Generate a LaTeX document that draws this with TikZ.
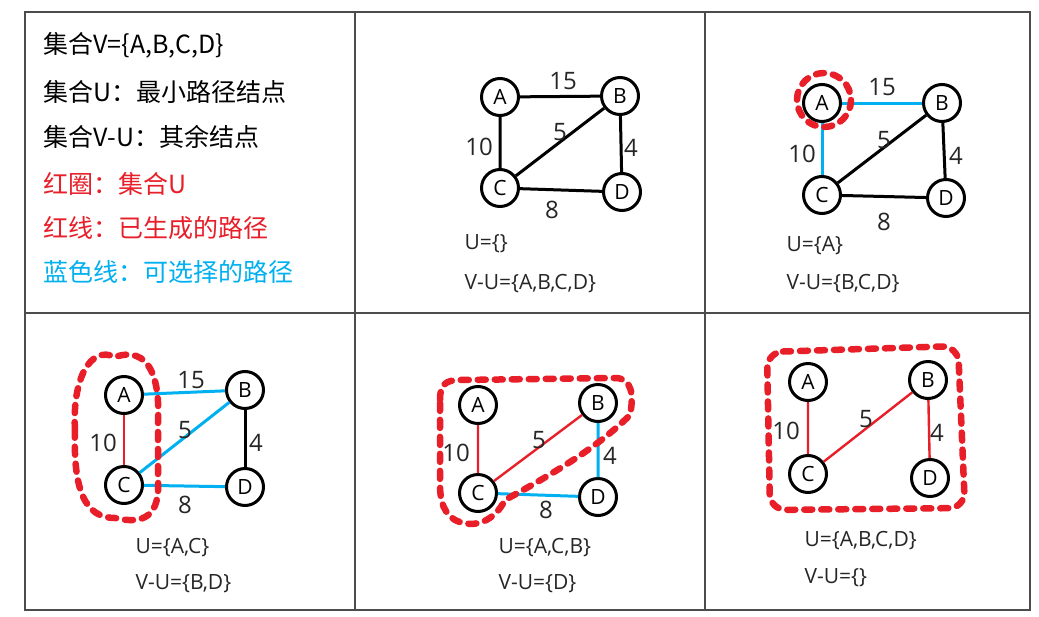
\documentclass[tikz,border=0pt]{standalone}
\usepackage{fontspec}
\setmainfont{Open Sans}
\newfontfamily\cjk{Noto Sans CJK SC}
\begin{document}
\begin{tikzpicture}[x=1pt,y=-1pt,
  nd/.style={circle,draw,line width=3pt,minimum size=37pt,inner sep=0pt,font=\fontsize{21}{21}\selectfont},
  bl/.style={line width=3pt},
  rd/.style={line width=2.4pt,draw=myred},
  bu/.style={line width=3pt,draw=myblue},
  lab/.style={font=\fontsize{24}{24}\selectfont,text=black!85},
  info/.style={anchor=west,font=\fontsize{21}{21}\selectfont,text=black!85},
  circ/.style={draw=myred,line width=6.5pt,dash pattern=on 8pt off 9pt,line cap=round},
  left/.style={anchor=west,font=\cjk\fontsize{25}{25}\selectfont}]
\definecolor{myred}{RGB}{232,30,40}
\definecolor{myblue}{RGB}{0,176,240}
\useasboundingbox (0,0) rectangle (1039,616);
\fill[white] (0,0) rectangle (1039,616);
% grid
\draw[line width=2.5pt,black!70] (25,12) rectangle (1030,610);
\draw[line width=2.5pt,black!70] (25,313) -- (1030,313);
\draw[line width=2.5pt,black!70] (355,12) -- (355,610) (705,12) -- (705,610);
% legend
\node[left] (l1) at (40,45) {集合V=\{A,B,C,D\}};
\node[left] (l2) at (40,92) {集合U：最小路径结点};
\node[left] (l3) at (40,137) {集合V-U：其余结点};
\node[left,text=myred] (l4) at (40,184) {红圈：集合U};
\node[left,text=myred] (l5) at (40,228) {红线：已生成的路径};
\node[left,text=myblue] (l6) at (40,272) {蓝色线：可选择的路径};
% graph 1
\node[nd] (a1) at (500,97) {A};
\node[nd] (b1) at (620,96) {B};
\node[nd] (c1) at (500,188) {C};
\node[nd] (d1) at (622,192) {D};
\draw[bl] (a1)--(b1) (a1)--(c1) (c1)--(b1) (b1)--(d1) (c1)--(d1);
\node[lab] (w11) at (563,81) {15};
\node[lab] (w12) at (479,147) {10};
\node[lab] (w13) at (560,132) {5};
\node[lab] (w14) at (631,148) {4};
\node[lab] (w15) at (552,210) {8};
\node[info] (u1) at (461,244) {U=\{\}};
\node[info] (v1) at (461,284) {V-U=\{A,B,C,D\}};
% graph 2
\node[nd] (a2) at (822,103) {A};
\node[nd] (b2) at (942,103) {B};
\node[nd] (c2) at (822,195) {C};
\node[nd] (d2) at (946,198) {D};
\draw[bu] (a2)--(b2) (a2)--(c2);
\draw[bl] (c2)--(b2) (b2)--(d2) (c2)--(d2);
\draw[circ] (824,100) circle (27);
\node[lab] (w21) at (882,87) {15};
\node[lab] (w22) at (802,154) {10};
\node[lab] (w23) at (884,140) {5};
\node[lab] (w24) at (956,156) {4};
\node[lab] (w25) at (884,222) {8};
\node[info] (u2) at (783,246) {U=\{A\}};
\node[info] (v2) at (783,284) {V-U=\{B,C,D\}};
% graph 3
\node[nd] (a3) at (124,395) {A};
\node[nd] (b3) at (245,390) {B};
\node[nd] (c3) at (124,485) {C};
\node[nd] (d3) at (245,487) {D};
\draw[rd] (a3)--(c3);
\draw[bu] (a3)--(b3) (c3)--(b3) (c3)--(d3);
\draw[bl] (b3)--(d3);
\draw[circ] (75,430) .. controls (72,380) and (90,345) .. (115,357) .. controls (150,345) and (160,380) .. (158,420) -- (158,480) .. controls (160,515) and (145,525) .. (115,518) .. controls (85,518) and (73,490) .. cycle;
\node[lab] (w31) at (191,380) {15};
\node[lab] (w32) at (103,443) {10};
\node[lab] (w33) at (185,430) {5};
\node[lab] (w34) at (256,443) {4};
\node[lab] (w35) at (185,505) {8};
\node[info] (u3) at (132,548) {U=\{A,C\}};
\node[info] (v3) at (132,584) {V-U=\{B,D\}};
% graph 4
\node[nd] (a4) at (478,405) {A};
\node[nd] (b4) at (598,403) {B};
\node[nd] (c4) at (478,493) {C};
\node[nd] (d4) at (598,497) {D};
\draw[rd] (a4)--(c4) (c4)--(b4);
\draw[bu] (b4)--(d4) (c4)--(d4);
\draw[circ] (440,400) .. controls (440,385) and (445,380) .. (460,380) -- (615,378) .. controls (632,378) and (634,395) .. (630,415) .. controls (600,445) and (560,470) .. (505,500) .. controls (495,520) and (475,530) .. (455,520) .. controls (440,510) and (440,495) .. (440,480) -- cycle;
\node[lab] (w42) at (456,453) {10};
\node[lab] (w43) at (539,440) {5};
\node[lab] (w44) at (610,456) {4};
\node[lab] (w45) at (546,510) {8};
\node[info] (u4) at (495,548) {U=\{A,C,B\}};
\node[info] (v4) at (495,584) {V-U=\{D\}};
% graph 5
\node[nd] (a5) at (808,382) {A};
\node[nd] (b5) at (928,380) {B};
\node[nd] (c5) at (808,474) {C};
\node[nd] (d5) at (930,478) {D};
\draw[rd] (a5)--(c5) (c5)--(b5) (b5)--(d5);
\draw[circ,rounded corners=16pt] (767,352) -- (958,346) -- (965,508) -- (770,510) -- cycle;
\node[lab] (w52) at (786,431) {10};
\node[lab] (w53) at (866,419) {5};
\node[lab] (w54) at (937,433) {4};
\node[info] (u5) at (801,541) {U=\{A,B,C,D\}};
\node[info] (v5) at (801,578) {V-U=\{\}};
\end{tikzpicture}
\end{document}
